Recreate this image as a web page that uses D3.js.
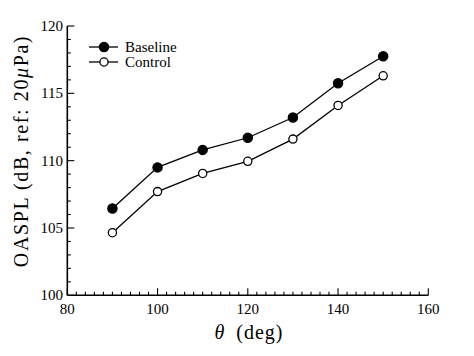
<!DOCTYPE html>
<html><head><meta charset="utf-8">
<script src="https://cdn.jsdelivr.net/npm/d3@7"></script>
<style>body{margin:0;background:#fff}svg{display:block}</style>
</head><body>
<svg id="c" width="474" height="356"></svg>
<script>
const angles = [90, 100, 110, 120, 130, 140, 150];
const baseline = [106.45, 109.5, 110.8, 111.7, 113.2, 115.75, 117.75];
const control = [104.65, 107.7, 109.05, 109.95, 111.6, 114.1, 116.3];
const xTicks = [80, 100, 120, 140, 160];
const yTicks = [100, 105, 110, 115, 120];
const seriesNames = ["Baseline", "Control"];

const svg = d3.select("#c");
const font = "'Liberation Serif','Times New Roman',serif";
const x = d3.scaleLinear().domain([80, 160]).range([67.3, 428.3]);
const y = d3.scaleLinear().domain([100, 120]).range([295.3, 26]);

// minor ticks
const xMinor = d3.range(80, 161, 2);
const yMinor = d3.range(100, 121, 1);
const g = svg.append("g");
g.selectAll(".xm").data(xMinor).join("line")
  .attr("x1", d => x(d)).attr("x2", d => x(d))
  .attr("y1", y(100)).attr("y2", d => y(100) - (d % 20 === 0 ? 7 : 3.5))
  .attr("stroke", "#000").attr("stroke-width", 1.1);
g.selectAll(".ym").data(yMinor).join("line")
  .attr("y1", d => y(d)).attr("y2", d => y(d))
  .attr("x1", x(80)).attr("x2", d => x(80) + (d % 5 === 0 ? 7 : 3.5))
  .attr("stroke", "#000").attr("stroke-width", 1.1);
// axis lines
g.append("line").attr("x1", x(80)).attr("x2", x(160)).attr("y1", y(100)).attr("y2", y(100))
  .attr("stroke", "#000").attr("stroke-width", 1.6);
g.append("line").attr("x1", x(80)).attr("x2", x(80)).attr("y1", y(100)).attr("y2", y(120))
  .attr("stroke", "#000").attr("stroke-width", 1.6);

// tick labels
g.selectAll(".xl").data(xTicks).join("text")
  .attr("x", d => x(d)).attr("y", 314)
  .attr("text-anchor", "middle").attr("font-family", font).attr("font-size", 15)
  .text(d => d);
g.selectAll(".yl").data(yTicks).join("text")
  .attr("x", 63).attr("y", d => y(d) + 5)
  .attr("text-anchor", "end").attr("font-family", font).attr("font-size", 15)
  .text(d => d);

// axis titles
const xt = svg.append("text").attr("x", 249).attr("y", 339)
  .attr("text-anchor", "middle").attr("font-family", font).attr("font-size", 20);
xt.append("tspan").attr("font-style", "italic").text("θ");
xt.append("tspan").text("  (deg)").attr("letter-spacing", 1).attr("xml:space", "preserve");
const yt = svg.append("text").attr("transform", "translate(28,151) rotate(-90)")
  .attr("text-anchor", "middle").attr("font-family", font).attr("font-size", 20)
  .attr("letter-spacing", 1.6);
yt.append("tspan").text("OASPL (dB, ref: 20");
yt.append("tspan").attr("font-style", "italic").text("μ");
yt.append("tspan").text("Pa)");

// lines and markers
const line = d3.line().x((d, i) => x(angles[i])).y(d => y(d));
const series = [baseline, control];
series.forEach((s, k) => {
  svg.append("path").datum(s).attr("d", line).attr("fill", "none")
    .attr("stroke", "#000").attr("stroke-width", 1.3);
  svg.selectAll(".m" + k).data(s).join("circle")
    .attr("cx", (d, i) => x(angles[i])).attr("cy", d => y(d))
    .attr("r", k === 0 ? 4.6 : 4.1)
    .attr("fill", k === 0 ? "#000" : "#fff")
    .attr("stroke", "#000").attr("stroke-width", 1.3);
});

// legend
const lg = svg.append("g");
seriesNames.forEach((name, k) => {
  const yy = 47 + k * 15;
  lg.append("line").attr("x1", 89).attr("x2", 118).attr("y1", yy).attr("y2", yy)
    .attr("stroke", "#000").attr("stroke-width", 1.3);
  lg.append("circle").attr("cx", 104).attr("cy", yy).attr("r", k === 0 ? 4.6 : 4.1)
    .attr("fill", k === 0 ? "#000" : "#fff").attr("stroke", "#000").attr("stroke-width", 1.3);
  lg.append("text").attr("x", 125).attr("y", yy + 5)
    .attr("font-family", font).attr("font-size", 15).text(name);
});
</script>
</body></html>
